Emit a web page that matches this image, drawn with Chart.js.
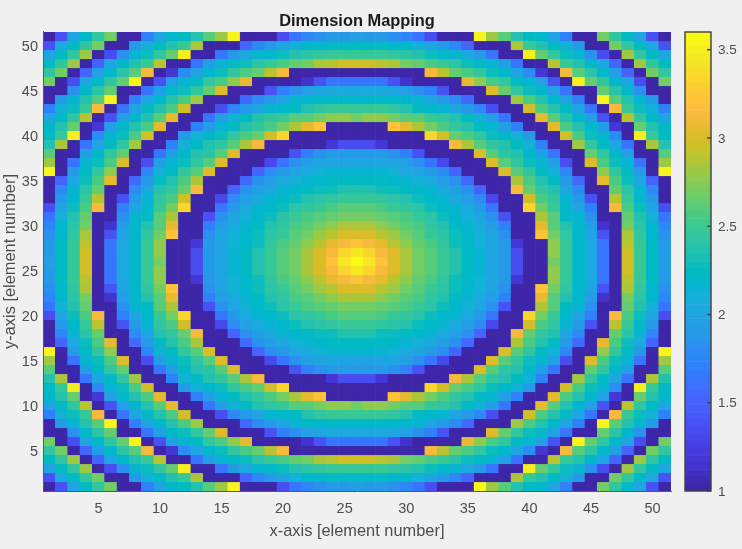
<!DOCTYPE html>
<html>
<head>
<meta charset="utf-8">
<title>Dimension Mapping</title>
<script src="https://cdn.jsdelivr.net/npm/chart.js@4/dist/chart.umd.min.js"></script>
<style>
    html, body { margin: 0; padding: 0; background: #f0f0f0; }
    canvas { position: absolute; left: 0; top: 0; }
</style>
</head>
<body>
<canvas id="mapChart" width="742" height="549"></canvas>
<canvas id="barChart" width="742" height="549"></canvas>
<script>
const chartTitle = 'Dimension Mapping';
const xLabel = 'x-axis [element number]';
const yLabel = 'y-axis [element number]';
const axisTicks = [5, 10, 15, 20, 25, 30, 35, 40, 45, 50];
const barTicks = [1, 1.5, 2, 2.5, 3, 3.5];
const barMin = 1;
const barMax = 3.6;

// Cell values, top row (y = 51) first
const cellRows = [
[1,1.4,2,2.25,2.45,2.7,1,1,1.7,2,2.2,2.25,2.35,2.6,2.8,3.55,1,1,1,1.35,1.65,1.75,1.85,1.9,1.9,1.95,1.9,1.9,1.85,1.75,1.65,1.35,1,1,1,3.55,2.8,2.6,2.35,2.25,2.2,2,1.7,1,1,2.7,2.45,2.25,2,1.4,1],
[1.4,2.05,2.25,2.45,2.7,1,1,1.9,2.1,2.25,2.35,2.5,2.85,1,1,1,1.5,1.75,1.9,2,2.1,2.2,2.2,2.25,2.25,2.25,2.25,2.25,2.2,2.2,2.1,2,1.9,1.75,1.5,1,1,1,2.85,2.5,2.35,2.25,2.1,1.9,1,1,2.7,2.45,2.25,2.05,1.4],
[2,2.25,2.45,2.8,1,1.35,1.85,2.15,2.3,2.45,2.65,3.5,1,1,1.65,1.9,2.05,2.15,2.2,2.3,2.35,2.4,2.45,2.5,2.5,2.5,2.5,2.5,2.45,2.4,2.35,2.3,2.2,2.15,2.05,1.9,1.65,1,1,3.5,2.65,2.45,2.3,2.15,1.85,1.35,1,2.8,2.45,2.25,2],
[2.25,2.45,2.8,1,1.5,2,2.2,2.35,2.5,2.9,1,1,1.65,1.95,2.15,2.25,2.3,2.4,2.5,2.55,2.65,2.7,2.85,2.9,2.95,2.95,2.95,2.9,2.85,2.7,2.65,2.55,2.5,2.4,2.3,2.25,2.15,1.95,1.65,1,1,2.9,2.5,2.35,2.2,2,1.5,1,2.8,2.45,2.25],
[2.45,2.7,1,1.5,1.95,2.2,2.4,2.6,3.15,1,1.2,1.8,2,2.2,2.3,2.45,2.55,2.65,2.9,3.15,1,1,1,1,1,1,1,1,1,1,1,3.15,2.9,2.65,2.55,2.45,2.3,2.2,2,1.8,1.2,1,3.15,2.6,2.4,2.2,1.95,1.5,1,2.7,2.45],
[2.7,1,1.35,2,2.2,2.45,2.65,3.55,1,1.4,1.95,2.15,2.25,2.45,2.55,2.75,3.05,1,1,1,1,1.15,1.4,1.65,1.65,1.65,1.65,1.65,1.4,1.15,1,1,1,1,3.05,2.75,2.55,2.45,2.25,2.15,1.95,1.4,1,3.55,2.65,2.45,2.2,2,1.35,1,2.7],
[1,1,1.85,2.2,2.4,2.65,1,1,1.65,1.95,2.2,2.3,2.45,2.65,3,1,1,1,1.4,1.7,1.85,1.95,2,2.05,2.05,2.05,2.05,2.05,2,1.95,1.85,1.7,1.4,1,1,1,3,2.65,2.45,2.3,2.2,1.95,1.65,1,1,2.65,2.4,2.2,1.85,1,1],
[1,1.9,2.15,2.35,2.6,3.55,1,1.7,2,2.2,2.35,2.55,2.8,1,1,1,1.55,1.8,1.9,2,2.15,2.2,2.2,2.2,2.2,2.2,2.2,2.2,2.2,2.2,2.15,2,1.9,1.8,1.55,1,1,1,2.8,2.55,2.35,2.2,2,1.7,1,3.55,2.6,2.35,2.15,1.9,1],
[1.7,2.1,2.3,2.5,3.15,1,1.65,2,2.25,2.35,2.55,2.95,1,1,1.35,1.75,1.9,2,2.15,2.2,2.25,2.35,2.45,2.5,2.5,2.5,2.5,2.5,2.45,2.35,2.25,2.2,2.15,2,1.9,1.75,1.35,1,1,2.95,2.55,2.35,2.25,2,1.65,1,3.15,2.5,2.3,2.1,1.7],
[2,2.25,2.45,2.9,1,1.4,1.95,2.2,2.35,2.6,3.05,1,1,1.65,1.95,2.1,2.25,2.35,2.45,2.5,2.6,2.6,2.7,2.75,2.75,2.7,2.75,2.75,2.7,2.6,2.6,2.5,2.45,2.35,2.25,2.1,1.95,1.65,1,1,3.05,2.6,2.35,2.2,1.95,1.4,1,2.9,2.45,2.25,2],
[2.2,2.35,2.65,1,1.2,1.95,2.2,2.35,2.55,3.05,1,1,1.7,1.95,2.15,2.25,2.35,2.45,2.55,2.7,2.85,3.05,3.2,1,1,1,1,1,3.2,3.05,2.85,2.7,2.55,2.45,2.35,2.25,2.15,1.95,1.7,1,1,3.05,2.55,2.35,2.2,1.95,1.2,1,2.65,2.35,2.2],
[2.25,2.5,3.5,1,1.8,2.15,2.3,2.55,2.95,1,1,1.9,2.1,2.2,2.3,2.45,2.55,2.65,2.95,3.35,1,1,1,1,1,1,1,1,1,1,1,3.35,2.95,2.65,2.55,2.45,2.3,2.2,2.1,1.9,1,1,2.95,2.55,2.3,2.15,1.8,1,3.5,2.5,2.25],
[2.35,2.85,1,1.65,2,2.25,2.45,2.8,1,1,1.7,2.1,2.25,2.35,2.45,2.6,2.85,3.15,1,1,1,1,1,1.2,1.35,1.35,1.35,1.2,1,1,1,1,1,3.15,2.85,2.6,2.45,2.35,2.25,2.1,1.7,1,1,2.8,2.45,2.25,2,1.65,1,2.85,2.35],
[2.6,1,1,1.95,2.2,2.45,2.65,1,1,1.65,1.95,2.2,2.35,2.4,2.6,3,1,1,1,1,1.4,1.7,1.85,1.9,1.9,1.9,1.9,1.9,1.85,1.7,1.4,1,1,1,1,3,2.6,2.4,2.35,2.2,1.95,1.65,1,1,2.65,2.45,2.2,1.95,1,1,2.6],
[2.8,1,1.65,2.15,2.3,2.55,3,1,1.35,1.95,2.15,2.3,2.45,2.6,3,1,1,1,1.3,1.65,1.85,1.95,2,2,2,2,2,2,2,1.95,1.85,1.65,1.3,1,1,1,3,2.6,2.45,2.3,2.15,1.95,1.35,1,3,2.55,2.3,2.15,1.65,1,2.8],
[3.55,1,1.9,2.25,2.45,2.75,1,1,1.75,2.1,2.25,2.45,2.6,3,1,1,1,1.5,1.8,1.9,2,2.05,2.1,2.15,2.15,2.15,2.15,2.15,2.1,2.05,2,1.9,1.8,1.5,1,1,1,3,2.6,2.45,2.25,2.1,1.75,1,1,2.75,2.45,2.25,1.9,1,3.55],
[1,1.5,2.05,2.3,2.55,3.05,1,1.55,1.9,2.25,2.35,2.55,2.85,1,1,1,1.55,1.85,1.95,2.05,2.1,2.15,2.2,2.25,2.25,2.25,2.25,2.25,2.2,2.15,2.1,2.05,1.95,1.85,1.55,1,1,1,2.85,2.55,2.35,2.25,1.9,1.55,1,3.05,2.55,2.3,2.05,1.5,1],
[1,1.75,2.15,2.4,2.65,1,1,1.8,2,2.35,2.45,2.65,3.15,1,1,1.5,1.85,1.95,2.05,2.15,2.2,2.25,2.3,2.3,2.35,2.35,2.35,2.3,2.3,2.25,2.2,2.15,2.05,1.95,1.85,1.5,1,1,3.15,2.65,2.45,2.35,2,1.8,1,1,2.65,2.4,2.15,1.75,1],
[1,1.9,2.2,2.5,2.9,1,1.4,1.9,2.15,2.45,2.55,2.95,1,1,1.3,1.8,1.95,2.05,2.15,2.2,2.3,2.35,2.4,2.45,2.5,2.5,2.5,2.45,2.4,2.35,2.3,2.2,2.15,2.05,1.95,1.8,1.3,1,1,2.95,2.55,2.45,2.15,1.9,1.4,1,2.9,2.5,2.2,1.9,1],
[1.35,2,2.3,2.55,3.15,1,1.7,2,2.2,2.5,2.7,3.35,1,1,1.65,1.9,2.05,2.15,2.2,2.3,2.4,2.45,2.5,2.55,2.6,2.6,2.6,2.55,2.5,2.45,2.4,2.3,2.2,2.15,2.05,1.9,1.65,1,1,3.35,2.7,2.5,2.2,2,1.7,1,3.15,2.55,2.3,2,1.35],
[1.65,2.1,2.35,2.65,1,1,1.85,2.15,2.25,2.6,2.85,1,1,1.4,1.85,2,2.1,2.2,2.3,2.4,2.5,2.55,2.6,2.65,2.7,2.7,2.7,2.65,2.6,2.55,2.5,2.4,2.3,2.2,2.1,2,1.85,1.4,1,1,2.85,2.6,2.25,2.15,1.85,1,1,2.65,2.35,2.1,1.65],
[1.75,2.2,2.4,2.7,1,1.15,1.95,2.2,2.35,2.6,3.05,1,1,1.7,1.95,2.05,2.15,2.25,2.35,2.45,2.55,2.6,2.7,2.75,2.85,2.85,2.85,2.75,2.7,2.6,2.55,2.45,2.35,2.25,2.15,2.05,1.95,1.7,1,1,3.05,2.6,2.35,2.2,1.95,1.15,1,2.7,2.4,2.2,1.75],
[1.85,2.2,2.45,2.85,1,1.4,2,2.2,2.45,2.7,3.2,1,1,1.85,2,2.1,2.2,2.3,2.4,2.5,2.6,2.7,2.8,2.9,3,3,3,2.9,2.8,2.7,2.6,2.5,2.4,2.3,2.2,2.1,2,1.85,1,1,3.2,2.7,2.45,2.2,2,1.4,1,2.85,2.45,2.2,1.85],
[1.9,2.25,2.5,2.9,1,1.65,2.05,2.2,2.5,2.75,1,1,1.2,1.9,2,2.1,2.2,2.3,2.45,2.55,2.65,2.75,2.9,3.05,3.15,3.2,3.15,3.05,2.9,2.75,2.65,2.55,2.45,2.3,2.2,2.1,2,1.9,1.2,1,1,2.75,2.5,2.2,2.05,1.65,1,2.9,2.5,2.25,1.9],
[1.9,2.25,2.5,2.95,1,1.65,2.05,2.2,2.5,2.75,1,1,1.35,1.9,2,2.15,2.25,2.35,2.5,2.6,2.7,2.85,3,3.15,3.35,3.45,3.35,3.15,3,2.85,2.7,2.6,2.5,2.35,2.25,2.15,2,1.9,1.35,1,1,2.75,2.5,2.2,2.05,1.65,1,2.95,2.5,2.25,1.9],
[1.95,2.25,2.5,2.95,1,1.65,2.05,2.2,2.5,2.7,1,1,1.35,1.9,2,2.15,2.25,2.35,2.5,2.6,2.7,2.85,3,3.2,3.45,3.6,3.45,3.2,3,2.85,2.7,2.6,2.5,2.35,2.25,2.15,2,1.9,1.35,1,1,2.7,2.5,2.2,2.05,1.65,1,2.95,2.5,2.25,1.95],
[1.9,2.25,2.5,2.95,1,1.65,2.05,2.2,2.5,2.75,1,1,1.35,1.9,2,2.15,2.25,2.35,2.5,2.6,2.7,2.85,3,3.15,3.35,3.45,3.35,3.15,3,2.85,2.7,2.6,2.5,2.35,2.25,2.15,2,1.9,1.35,1,1,2.75,2.5,2.2,2.05,1.65,1,2.95,2.5,2.25,1.9],
[1.9,2.25,2.5,2.9,1,1.65,2.05,2.2,2.5,2.75,1,1,1.2,1.9,2,2.1,2.2,2.3,2.45,2.55,2.65,2.75,2.9,3.05,3.15,3.2,3.15,3.05,2.9,2.75,2.65,2.55,2.45,2.3,2.2,2.1,2,1.9,1.2,1,1,2.75,2.5,2.2,2.05,1.65,1,2.9,2.5,2.25,1.9],
[1.85,2.2,2.45,2.85,1,1.4,2,2.2,2.45,2.7,3.2,1,1,1.85,2,2.1,2.2,2.3,2.4,2.5,2.6,2.7,2.8,2.9,3,3,3,2.9,2.8,2.7,2.6,2.5,2.4,2.3,2.2,2.1,2,1.85,1,1,3.2,2.7,2.45,2.2,2,1.4,1,2.85,2.45,2.2,1.85],
[1.75,2.2,2.4,2.7,1,1.15,1.95,2.2,2.35,2.6,3.05,1,1,1.7,1.95,2.05,2.15,2.25,2.35,2.45,2.55,2.6,2.7,2.75,2.85,2.85,2.85,2.75,2.7,2.6,2.55,2.45,2.35,2.25,2.15,2.05,1.95,1.7,1,1,3.05,2.6,2.35,2.2,1.95,1.15,1,2.7,2.4,2.2,1.75],
[1.65,2.1,2.35,2.65,1,1,1.85,2.15,2.25,2.6,2.85,1,1,1.4,1.85,2,2.1,2.2,2.3,2.4,2.5,2.55,2.6,2.65,2.7,2.7,2.7,2.65,2.6,2.55,2.5,2.4,2.3,2.2,2.1,2,1.85,1.4,1,1,2.85,2.6,2.25,2.15,1.85,1,1,2.65,2.35,2.1,1.65],
[1.35,2,2.3,2.55,3.15,1,1.7,2,2.2,2.5,2.7,3.35,1,1,1.65,1.9,2.05,2.15,2.2,2.3,2.4,2.45,2.5,2.55,2.6,2.6,2.6,2.55,2.5,2.45,2.4,2.3,2.2,2.15,2.05,1.9,1.65,1,1,3.35,2.7,2.5,2.2,2,1.7,1,3.15,2.55,2.3,2,1.35],
[1,1.9,2.2,2.5,2.9,1,1.4,1.9,2.15,2.45,2.55,2.95,1,1,1.3,1.8,1.95,2.05,2.15,2.2,2.3,2.35,2.4,2.45,2.5,2.5,2.5,2.45,2.4,2.35,2.3,2.2,2.15,2.05,1.95,1.8,1.3,1,1,2.95,2.55,2.45,2.15,1.9,1.4,1,2.9,2.5,2.2,1.9,1],
[1,1.75,2.15,2.4,2.65,1,1,1.8,2,2.35,2.45,2.65,3.15,1,1,1.5,1.85,1.95,2.05,2.15,2.2,2.25,2.3,2.3,2.35,2.35,2.35,2.3,2.3,2.25,2.2,2.15,2.05,1.95,1.85,1.5,1,1,3.15,2.65,2.45,2.35,2,1.8,1,1,2.65,2.4,2.15,1.75,1],
[1,1.5,2.05,2.3,2.55,3.05,1,1.55,1.9,2.25,2.35,2.55,2.85,1,1,1,1.55,1.85,1.95,2.05,2.1,2.15,2.2,2.25,2.25,2.25,2.25,2.25,2.2,2.15,2.1,2.05,1.95,1.85,1.55,1,1,1,2.85,2.55,2.35,2.25,1.9,1.55,1,3.05,2.55,2.3,2.05,1.5,1],
[3.55,1,1.9,2.25,2.45,2.75,1,1,1.75,2.1,2.25,2.45,2.6,3,1,1,1,1.5,1.8,1.9,2,2.05,2.1,2.15,2.15,2.15,2.15,2.15,2.1,2.05,2,1.9,1.8,1.5,1,1,1,3,2.6,2.45,2.25,2.1,1.75,1,1,2.75,2.45,2.25,1.9,1,3.55],
[2.8,1,1.65,2.15,2.3,2.55,3,1,1.35,1.95,2.15,2.3,2.45,2.6,3,1,1,1,1.3,1.65,1.85,1.95,2,2,2,2,2,2,2,1.95,1.85,1.65,1.3,1,1,1,3,2.6,2.45,2.3,2.15,1.95,1.35,1,3,2.55,2.3,2.15,1.65,1,2.8],
[2.6,1,1,1.95,2.2,2.45,2.65,1,1,1.65,1.95,2.2,2.35,2.4,2.6,3,1,1,1,1,1.4,1.7,1.85,1.9,1.9,1.9,1.9,1.9,1.85,1.7,1.4,1,1,1,1,3,2.6,2.4,2.35,2.2,1.95,1.65,1,1,2.65,2.45,2.2,1.95,1,1,2.6],
[2.35,2.85,1,1.65,2,2.25,2.45,2.8,1,1,1.7,2.1,2.25,2.35,2.45,2.6,2.85,3.15,1,1,1,1,1,1.2,1.35,1.35,1.35,1.2,1,1,1,1,1,3.15,2.85,2.6,2.45,2.35,2.25,2.1,1.7,1,1,2.8,2.45,2.25,2,1.65,1,2.85,2.35],
[2.25,2.5,3.5,1,1.8,2.15,2.3,2.55,2.95,1,1,1.9,2.1,2.2,2.3,2.45,2.55,2.65,2.95,3.35,1,1,1,1,1,1,1,1,1,1,1,3.35,2.95,2.65,2.55,2.45,2.3,2.2,2.1,1.9,1,1,2.95,2.55,2.3,2.15,1.8,1,3.5,2.5,2.25],
[2.2,2.35,2.65,1,1.2,1.95,2.2,2.35,2.55,3.05,1,1,1.7,1.95,2.15,2.25,2.35,2.45,2.55,2.7,2.85,3.05,3.2,1,1,1,1,1,3.2,3.05,2.85,2.7,2.55,2.45,2.35,2.25,2.15,1.95,1.7,1,1,3.05,2.55,2.35,2.2,1.95,1.2,1,2.65,2.35,2.2],
[2,2.25,2.45,2.9,1,1.4,1.95,2.2,2.35,2.6,3.05,1,1,1.65,1.95,2.1,2.25,2.35,2.45,2.5,2.6,2.6,2.7,2.75,2.75,2.7,2.75,2.75,2.7,2.6,2.6,2.5,2.45,2.35,2.25,2.1,1.95,1.65,1,1,3.05,2.6,2.35,2.2,1.95,1.4,1,2.9,2.45,2.25,2],
[1.7,2.1,2.3,2.5,3.15,1,1.65,2,2.25,2.35,2.55,2.95,1,1,1.35,1.75,1.9,2,2.15,2.2,2.25,2.35,2.45,2.5,2.5,2.5,2.5,2.5,2.45,2.35,2.25,2.2,2.15,2,1.9,1.75,1.35,1,1,2.95,2.55,2.35,2.25,2,1.65,1,3.15,2.5,2.3,2.1,1.7],
[1,1.9,2.15,2.35,2.6,3.55,1,1.7,2,2.2,2.35,2.55,2.8,1,1,1,1.55,1.8,1.9,2,2.15,2.2,2.2,2.2,2.2,2.2,2.2,2.2,2.2,2.2,2.15,2,1.9,1.8,1.55,1,1,1,2.8,2.55,2.35,2.2,2,1.7,1,3.55,2.6,2.35,2.15,1.9,1],
[1,1,1.85,2.2,2.4,2.65,1,1,1.65,1.95,2.2,2.3,2.45,2.65,3,1,1,1,1.4,1.7,1.85,1.95,2,2.05,2.05,2.05,2.05,2.05,2,1.95,1.85,1.7,1.4,1,1,1,3,2.65,2.45,2.3,2.2,1.95,1.65,1,1,2.65,2.4,2.2,1.85,1,1],
[2.7,1,1.35,2,2.2,2.45,2.65,3.55,1,1.4,1.95,2.15,2.25,2.45,2.55,2.75,3.05,1,1,1,1,1.15,1.4,1.65,1.65,1.65,1.65,1.65,1.4,1.15,1,1,1,1,3.05,2.75,2.55,2.45,2.25,2.15,1.95,1.4,1,3.55,2.65,2.45,2.2,2,1.35,1,2.7],
[2.45,2.7,1,1.5,1.95,2.2,2.4,2.6,3.15,1,1.2,1.8,2,2.2,2.3,2.45,2.55,2.65,2.9,3.15,1,1,1,1,1,1,1,1,1,1,1,3.15,2.9,2.65,2.55,2.45,2.3,2.2,2,1.8,1.2,1,3.15,2.6,2.4,2.2,1.95,1.5,1,2.7,2.45],
[2.25,2.45,2.8,1,1.5,2,2.2,2.35,2.5,2.9,1,1,1.65,1.95,2.15,2.25,2.3,2.4,2.5,2.55,2.65,2.7,2.85,2.9,2.95,2.95,2.95,2.9,2.85,2.7,2.65,2.55,2.5,2.4,2.3,2.25,2.15,1.95,1.65,1,1,2.9,2.5,2.35,2.2,2,1.5,1,2.8,2.45,2.25],
[2,2.25,2.45,2.8,1,1.35,1.85,2.15,2.3,2.45,2.65,3.5,1,1,1.65,1.9,2.05,2.15,2.2,2.3,2.35,2.4,2.45,2.5,2.5,2.5,2.5,2.5,2.45,2.4,2.35,2.3,2.2,2.15,2.05,1.9,1.65,1,1,3.5,2.65,2.45,2.3,2.15,1.85,1.35,1,2.8,2.45,2.25,2],
[1.4,2.05,2.25,2.45,2.7,1,1,1.9,2.1,2.25,2.35,2.5,2.85,1,1,1,1.5,1.75,1.9,2,2.1,2.2,2.2,2.25,2.25,2.25,2.25,2.25,2.2,2.2,2.1,2,1.9,1.75,1.5,1,1,1,2.85,2.5,2.35,2.25,2.1,1.9,1,1,2.7,2.45,2.25,2.05,1.4],
[1,1.4,2,2.25,2.45,2.7,1,1,1.7,2,2.2,2.25,2.35,2.6,2.8,3.55,1,1,1,1.35,1.65,1.75,1.85,1.9,1.9,1.95,1.9,1.9,1.85,1.75,1.65,1.35,1,1,1,3.55,2.8,2.6,2.35,2.25,2.2,2,1.7,1,1,2.7,2.45,2.25,2,1.4,1]
];

// parula, 64 levels
const parula = [
[.2422,.1504,.6603],[.2504,.1650,.7076],[.2578,.1818,.7511],[.2647,.1978,.7952],
[.2706,.2147,.8364],[.2751,.2342,.8710],[.2783,.2559,.8991],[.2803,.2782,.9221],
[.2813,.3006,.9414],[.2810,.3228,.9579],[.2795,.3447,.9717],[.2760,.3667,.9829],
[.2699,.3892,.9906],[.2602,.4123,.9952],[.2440,.4358,.9988],[.2206,.4603,.9973],
[.1963,.4847,.9892],[.1834,.5074,.9798],[.1786,.5289,.9682],[.1764,.5499,.9520],
[.1687,.5703,.9359],[.1540,.5902,.9218],[.1460,.6091,.9079],[.1380,.6276,.8973],
[.1248,.6459,.8883],[.1113,.6635,.8763],[.0952,.6798,.8598],[.0689,.6948,.8394],
[.0297,.7082,.8163],[.0036,.7203,.7917],[.0067,.7312,.7660],[.0433,.7411,.7394],
[.0964,.7500,.7120],[.1408,.7584,.6842],[.1717,.7670,.6554],[.1938,.7758,.6251],
[.2161,.7843,.5923],[.2470,.7918,.5567],[.2906,.7973,.5188],[.3406,.8008,.4789],
[.3909,.8029,.4354],[.4456,.8024,.3909],[.5044,.7993,.3480],[.5616,.7942,.3045],
[.6174,.7876,.2612],[.6720,.7793,.2227],[.7242,.7698,.1910],[.7738,.7598,.1646],
[.8203,.7498,.1535],[.8634,.7406,.1596],[.9035,.7330,.1774],[.9393,.7288,.2100],
[.9728,.7298,.2394],[.9956,.7434,.2371],[.9970,.7659,.2199],[.9952,.7861,.2028],
[.9892,.8136,.1885],[.9786,.8386,.1766],[.9676,.8639,.1643],[.9610,.8890,.1537],
[.9597,.9135,.1423],[.9626,.9373,.1265],[.9691,.9606,.1064],[.9769,.9839,.0805]
];

const toCss = c => `rgb(${Math.round(c[0] * 255)},${Math.round(c[1] * 255)},${Math.round(c[2] * 255)})`;

function colorFor(value) {
    const idx = Math.floor((value - barMin) / (barMax - barMin) * parula.length);
    return toCss(parula[Math.max(0, Math.min(parula.length - 1, idx))]);
}

const textColor = '#4d4d4d';
const fontFamily = "'Liberation Sans', Arial, sans-serif";

// One floating-bar dataset per row of cells
const mapDatasets = cellRows.map((values, r) => {
    const y = cellRows.length - r;
    const colors = values.map(colorFor);
    return {
        data: values.map((v, c) => ({ x: c + 1, y: [y - 0.5, y + 0.5] })),
        backgroundColor: colors,
        borderColor: colors,
        borderWidth: 0.4,
        borderSkipped: false,
        barPercentage: 1,
        categoryPercentage: 1,
        grouped: false
    };
});

new Chart(document.getElementById('mapChart'), {
    type: 'bar',
    data: { datasets: mapDatasets },
    options: {
        responsive: false,
        animation: false,
        events: [],
        layout: { padding: { left: 0, right: 71, top: 0, bottom: 0 } },
        plugins: {
            legend: { display: false },
            tooltip: { enabled: false },
            title: {
                display: true,
                fullSize: false,
                text: chartTitle,
                color: '#1a1a1a',
                font: { family: fontFamily, size: 16.4, weight: 'bold' },
                padding: { top: 12, bottom: 0.3 }
            }
        },
        scales: {
            x: {
                type: 'linear',
                min: 0.5,
                max: 51.5,
                offset: false,
                grid: { display: false, drawTicks: false },
                border: { display: true, color: '#595959', width: 1, z: 1 },
                afterBuildTicks: s => { s.ticks = axisTicks.map(v => ({ value: v })); },
                afterFit: s => { s.height = 58; },
                ticks: { color: textColor, font: { family: fontFamily, size: 14.5 }, maxRotation: 0, padding: 9 },
                title: { display: true, text: xLabel, color: textColor, font: { family: fontFamily, size: 16.4 }, padding: { top: 3, bottom: 8 } }
            },
            y: {
                type: 'linear',
                min: 0.5,
                max: 51.5,
                grid: { display: false, drawTicks: false },
                border: { display: true, color: '#595959', width: 1, z: 1 },
                afterBuildTicks: s => { s.ticks = axisTicks.map(v => ({ value: v })); },
                afterFit: s => { s.width = 43; },
                ticks: { color: textColor, font: { family: fontFamily, size: 14.5 }, padding: 5, labelOffset: 1.5 },
                title: { display: true, text: yLabel, color: textColor, font: { family: fontFamily, size: 16.4 }, padding: { top: 1, bottom: 2 } }
            }
        }
    }
});

// Colour bar: one floating bar per colormap level
const levelStep = (barMax - barMin) / parula.length;
const barDatasets = parula.map((c, k) => ({
    data: [{ x: 1, y: [barMin + k * levelStep, barMin + (k + 1) * levelStep] }],
    backgroundColor: toCss(c),
    borderColor: toCss(c),
    borderWidth: 0.4,
    borderSkipped: false,
    barPercentage: 1,
    categoryPercentage: 1,
    grouped: false
}));

const barFrame = {
    id: 'barFrame',
    afterDatasetsDraw(chart) {
        const { ctx, chartArea: a, scales } = chart;
        ctx.save();
        ctx.strokeStyle = '#3f3f3f';
        ctx.lineWidth = 1.4;
        ctx.strokeRect(a.left, a.top, a.right - a.left, a.bottom - a.top);
        barTicks.forEach(v => {
            const py = scales.y.getPixelForValue(v);
            ctx.beginPath();
            ctx.moveTo(a.right - 4, py);
            ctx.lineTo(a.right, py);
            ctx.stroke();
        });
        ctx.restore();
    }
};

new Chart(document.getElementById('barChart'), {
    type: 'bar',
    data: { datasets: barDatasets },
    plugins: [barFrame],
    options: {
        responsive: false,
        animation: false,
        events: [],
        layout: { padding: { left: 685, right: 0, top: 32, bottom: 0 } },
        plugins: { legend: { display: false }, tooltip: { enabled: false } },
        scales: {
            x: {
                type: 'linear',
                min: 0.5,
                max: 1.5,
                offset: false,
                display: true,
                grid: { display: false },
                border: { display: false },
                ticks: { display: false },
                afterFit: s => { s.height = 58; }
            },
            y: {
                type: 'linear',
                position: 'right',
                min: barMin,
                max: barMax,
                grid: { display: false, drawTicks: false },
                border: { display: false },
                afterBuildTicks: s => { s.ticks = barTicks.map(v => ({ value: v })); },
                afterFit: s => { s.width = 31; },
                ticks: {
                    color: textColor,
                    font: { family: fontFamily, size: 13.5 },
                    padding: 7,
                    labelOffset: 1,
                    callback: v => String(v)
                }
            }
        }
    }
});
</script>
</body>
</html>
